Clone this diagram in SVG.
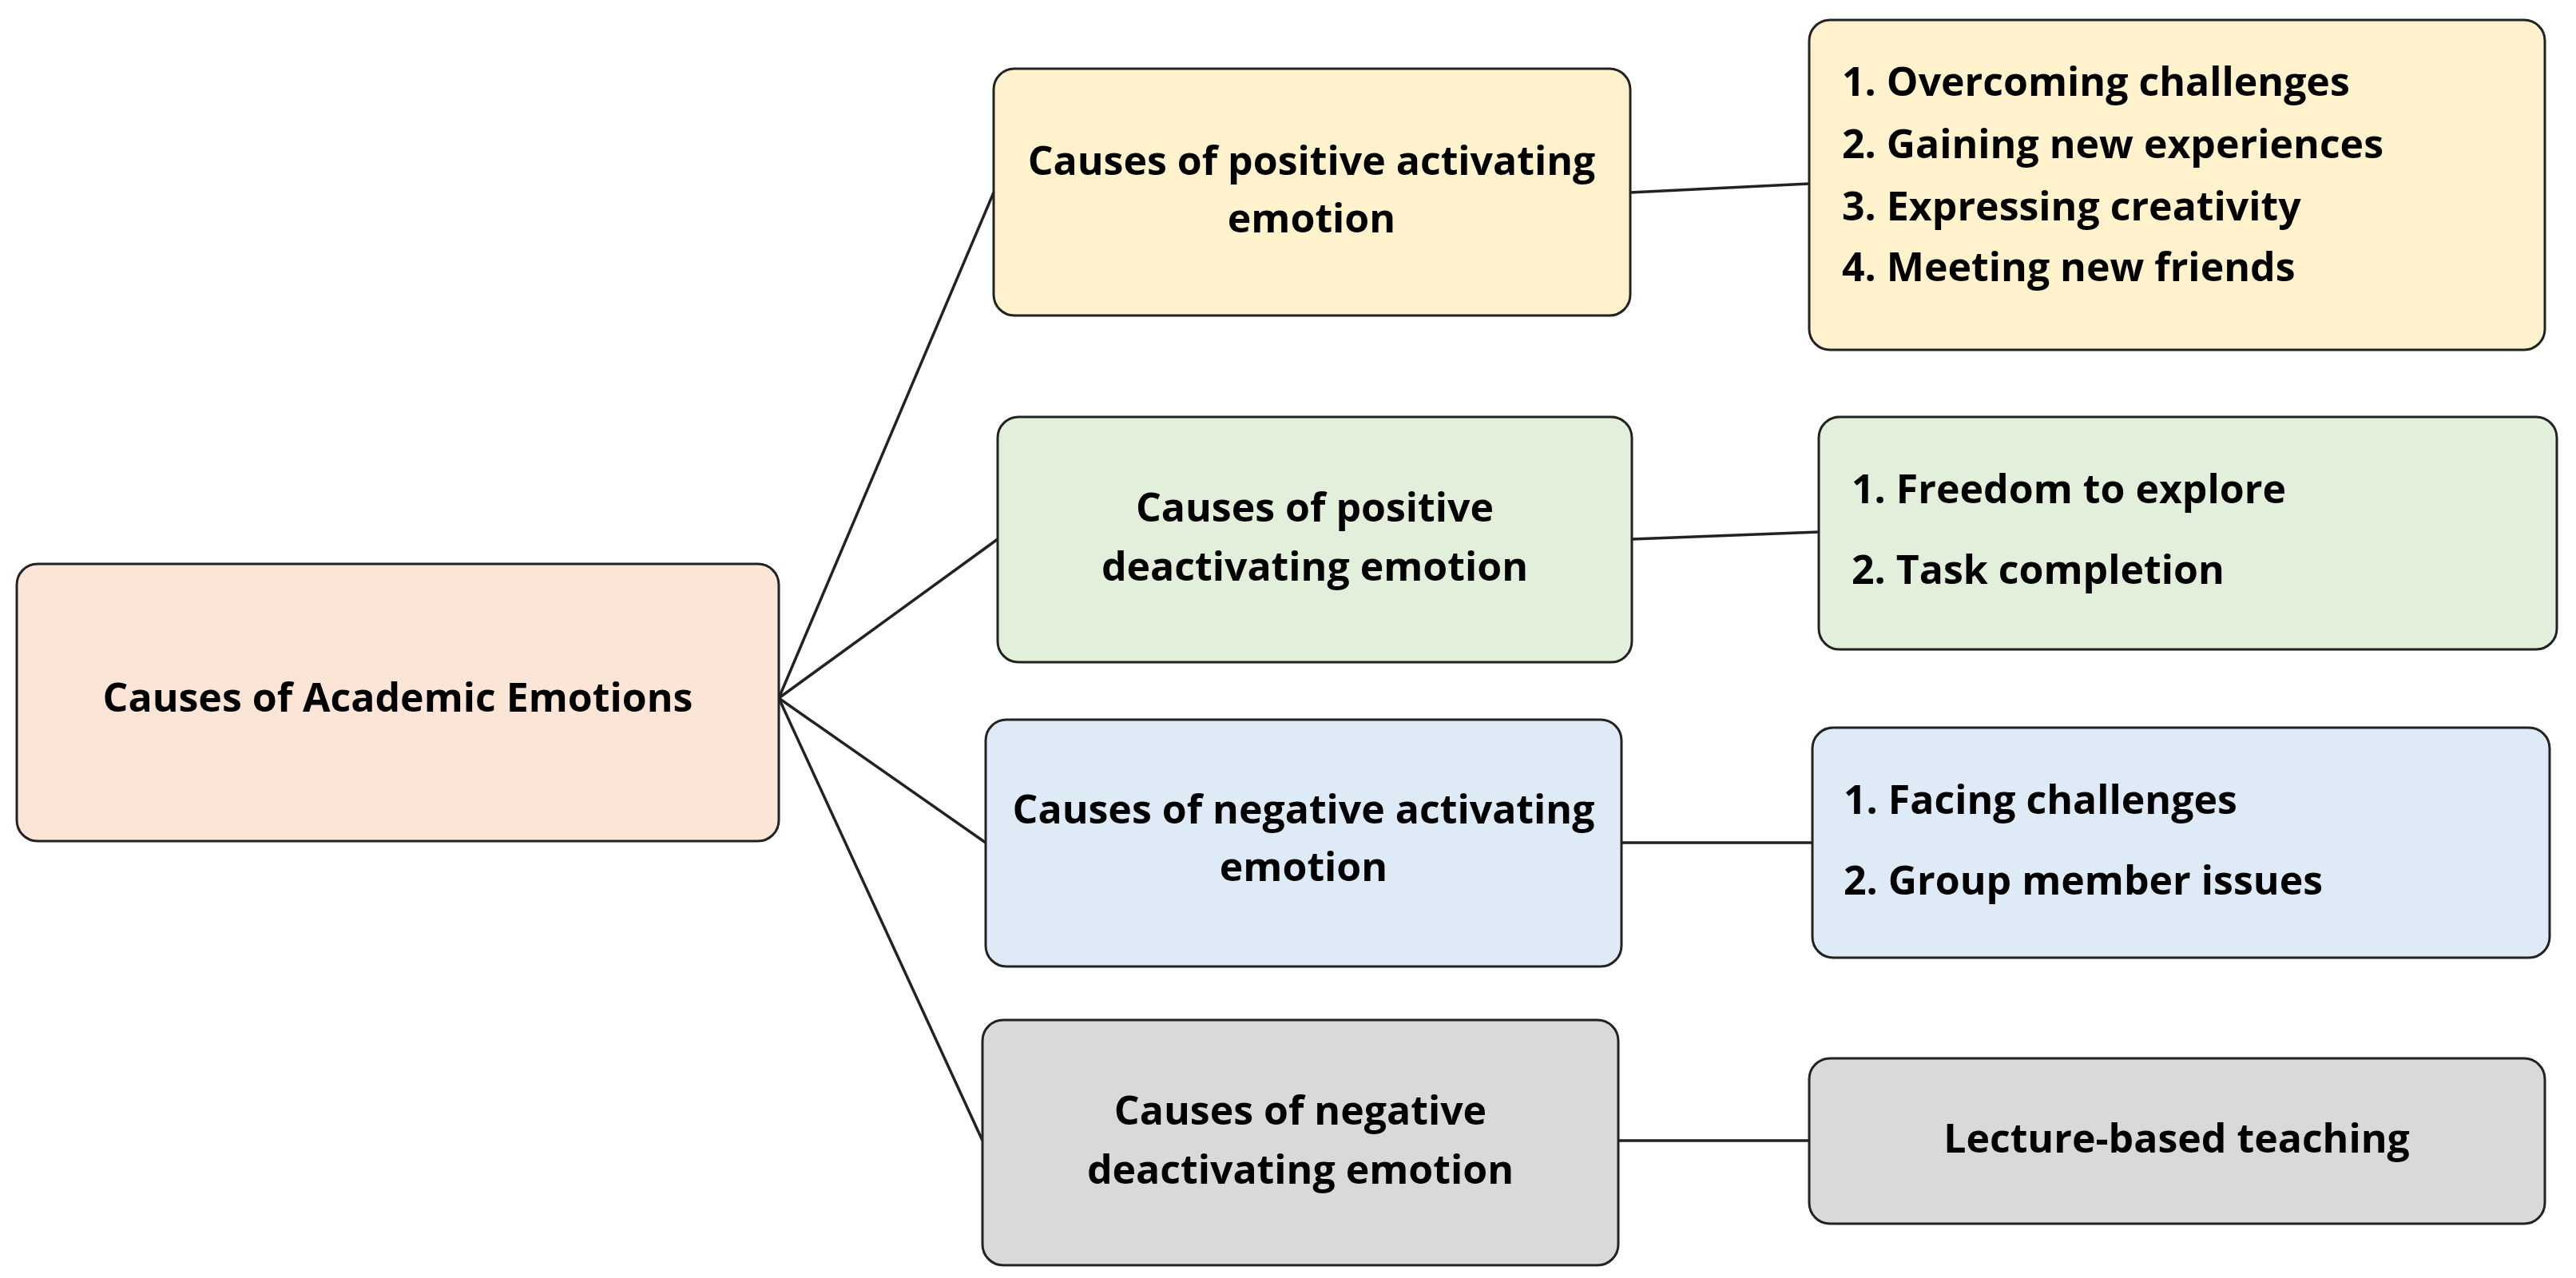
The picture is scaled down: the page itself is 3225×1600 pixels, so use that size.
<svg xmlns="http://www.w3.org/2000/svg" width="3225" height="1600" viewBox="0 0 3225 1600">
<style>
rect{stroke:#222;stroke-width:3;rx:26px}
text{font-family:"Open Sans","Liberation Sans",sans-serif;font-weight:bold;font-size:50px;fill:#000}
.c{text-anchor:middle}
#conn line{stroke:#222;stroke-width:3.5}
</style>
<rect x="0" y="0" width="3225" height="1600" fill="#fff" style="stroke:none"/>
<g id="conn">
<line x1="975" y1="874" x2="1244" y2="241"/>
<line x1="975" y1="874" x2="1249" y2="675"/>
<line x1="975" y1="874" x2="1234" y2="1055"/>
<line x1="975" y1="874" x2="1230" y2="1428"/>
<line x1="2041" y1="241" x2="2265" y2="230"/>
<line x1="2043" y1="675" x2="2277" y2="666"/>
<line x1="2030" y1="1055" x2="2269" y2="1055"/>
<line x1="2026" y1="1428" x2="2265" y2="1428"/>
</g>
<g id="root"><rect x="21" y="706" width="954" height="347" fill="#fbe5d6"/><text class="c" x="498" y="891">Causes of Academic Emotions</text></g>
<g id="b1"><rect x="1244" y="86" width="797" height="309" fill="#fff2cc"/><text class="c" x="1642" y="219">Causes of positive activating</text><text class="c" x="1642" y="291">emotion</text></g>
<g id="b2"><rect x="1249" y="522" width="794" height="307" fill="#e2efda"/><text class="c" x="1646" y="653">Causes of positive</text><text class="c" x="1646" y="727">deactivating emotion</text></g>
<g id="b3"><rect x="1234" y="901" width="796" height="309" fill="#deebf7"/><text class="c" x="1632" y="1031">Causes of negative activating</text><text class="c" x="1632" y="1103">emotion</text></g>
<g id="b4"><rect x="1230" y="1277" width="796" height="307" fill="#d9d9d9"/><text class="c" x="1628" y="1408">Causes of negative</text><text class="c" x="1628" y="1482">deactivating emotion</text></g>
<g id="r1"><rect x="2265" y="25" width="921" height="413" fill="#fff2cc"/>
<text x="2306" y="120">1. Overcoming challenges</text><text x="2306" y="198">2. Gaining new experiences</text><text x="2306" y="276">3. Expressing creativity</text><text x="2306" y="352">4. Meeting new friends</text></g>
<g id="r2"><rect x="2277" y="522" width="924" height="291" fill="#e2efda"/><text x="2318" y="630">1. Freedom to explore</text><text x="2318" y="731">2. Task completion</text></g>
<g id="r3"><rect x="2269" y="911" width="923" height="288" fill="#deebf7"/><text x="2308" y="1019">1. Facing challenges</text><text x="2308" y="1120">2. Group member issues</text></g>
<g id="r4"><rect x="2265" y="1325" width="921" height="207" fill="#d9d9d9"/><text class="c" x="2725" y="1443">Lecture-based teaching</text></g>
</svg>
